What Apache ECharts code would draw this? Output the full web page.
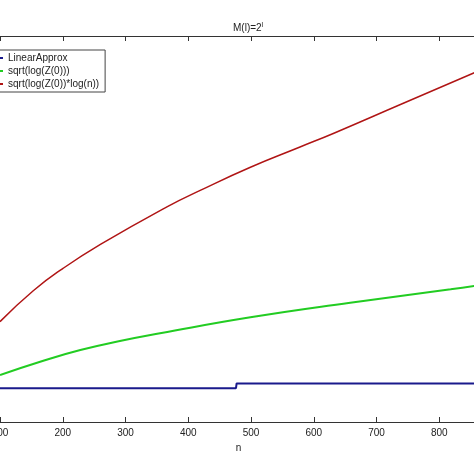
<!DOCTYPE html>
<html>
<head>
<meta charset="utf-8">
<script src="https://cdn.jsdelivr.net/npm/echarts@6/dist/echarts.min.js"></script>
<style>html,body{margin:0;padding:0;background:#fff}#main{width:474px;height:474px}</style>
</head>
<body>
<div id="main"></div>
<script>
// values (y in arbitrary units)
var redN = [100, 153, 200, 260, 366, 419, 499, 578, 631, 738, 856];
var redY = [10.4, 13.6, 15.9, 18.4, 22.3, 24.0, 26.4, 28.5, 29.9, 32.9, 36.2];
var greenN = [100, 164, 228, 291, 355, 499, 658, 818, 856];
var greenY = [4.87, 6.25, 7.46, 8.39, 9.19, 10.85, 12.36, 13.75, 14.1];
var blueN = [100, 476, 477, 856];
var blueY = [3.5, 3.5, 4.0, 4.0];

function pairs(xs, ys) {
	var out = [];
	for (var i = 0; i < xs.length; i++) out.push([xs[i], ys[i]]);
	return out;
}

var chart = echarts.init(document.getElementById("main"));
var font = "Liberation Sans";
chart.setOption({
	animation: false,
	title: {
		text: "{a|M(l)=2}{s|l}",
		left: 228, top: 17,
		textStyle: { fontWeight: "normal", rich: { a: { fontSize: 10, fontFamily: font, color: "#222" }, s: { fontSize: 7, fontFamily: font, color: "#222", verticalAlign: "top", padding: [0, 0, 6, 0] } } }
	},
	legend: {
		orient: "vertical", left: -22, top: 50, itemGap: 3, itemWidth: 20, itemHeight: 2,
		padding: [3, 6, 3, 4], borderColor: "#444", borderWidth: 1, backgroundColor: "#fff",
		textStyle: { fontSize: 10, fontFamily: font, color: "#222" },
		data: ["LinearApprox", "sqrt(log(Z(0)))", "sqrt(log(Z(0))*log(n))"]
	},
	grid: { left: 0, right: -3, top: 36, bottom: 52, containLabel: false, outerBoundsMode: "none" },
	xAxis: [{
		type: "value", min: 100, max: 860, interval: 100,
		name: "n", nameLocation: "middle", nameGap: 18,
		nameTextStyle: { fontSize: 10, fontFamily: font, color: "#222" },
		axisLine: { lineStyle: { color: "#333" } },
		axisTick: { inside: true, length: 5, lineStyle: { color: "#333" } },
		axisLabel: { fontSize: 10, fontFamily: font, color: "#222", margin: 6, showMaxLabel: false },
		splitLine: { show: false }
	}, {
		type: "value", position: "top", min: 100, max: 860, interval: 100,
		axisLine: { lineStyle: { color: "#333" } },
		axisTick: { inside: true, length: 5, lineStyle: { color: "#333" } },
		axisLabel: { show: false }, splitLine: { show: false }
	}],
	yAxis: { type: "value", min: 0, max: 40, show: false },
	series: [
		{ name: "LinearApprox", type: "line", showSymbol: false, data: pairs(blueN, blueY), lineStyle: { color: "#1a1a8c", width: 2 }, itemStyle: { color: "#1a1a8c" } },
		{ name: "sqrt(log(Z(0)))", type: "line", smooth: true, showSymbol: false, data: pairs(greenN, greenY), lineStyle: { color: "#22cc22", width: 2 }, itemStyle: { color: "#22cc22" } },
		{ name: "sqrt(log(Z(0))*log(n))", type: "line", smooth: true, showSymbol: false, data: pairs(redN, redY), lineStyle: { color: "#b01515", width: 1.5 }, itemStyle: { color: "#b01515" } }
	]
});
</script>
</body>
</html>
